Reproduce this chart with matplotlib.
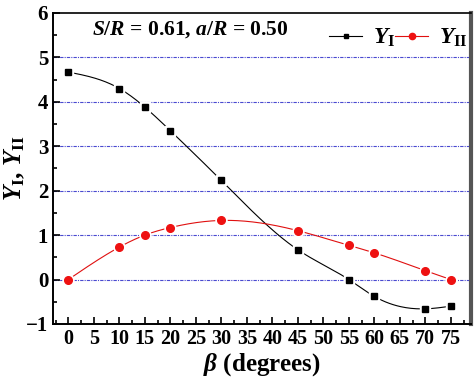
import numpy as np
import matplotlib
matplotlib.use("Agg")
import matplotlib.pyplot as plt
from matplotlib.ticker import MultipleLocator

plt.rcParams['font.family'] = 'Liberation Serif'
plt.rcParams['font.weight'] = 'bold'
plt.rcParams['axes.labelweight'] = 'bold'
plt.rcParams['mathtext.fontset'] = 'custom'
plt.rcParams['mathtext.rm'] = 'Liberation Serif:bold'
plt.rcParams['mathtext.it'] = 'Liberation Serif:bold:italic'
plt.rcParams['mathtext.bf'] = 'Liberation Serif:bold'

# data
beta = np.array([0, 10, 15, 20, 30, 45, 55, 60, 70, 75])
y_one = np.array([4.67, 4.30, 3.88, 3.35, 2.23, 0.67, 0.0, -0.38, -0.66, -0.60])
y_two = np.array([0.0, 0.73, 1.0, 1.17, 1.33, 1.10, 0.77, 0.60, 0.20, 0.0])
xticks = np.arange(0, 80, 5)
yticks = np.arange(-1, 7, 1)


def natural_spline(x, y, n=300):
    # natural cubic spline for the smooth connecting line
    x = x.astype(float)
    h = np.diff(x)
    k = len(x)
    A = np.zeros((k, k))
    r = np.zeros(k)
    A[0, 0] = A[-1, -1] = 1
    for i in range(1, k - 1):
        A[i, i - 1] = h[i - 1]
        A[i, i] = 2 * (h[i - 1] + h[i])
        A[i, i + 1] = h[i]
        r[i] = 6 * ((y[i + 1] - y[i]) / h[i] - (y[i] - y[i - 1]) / h[i - 1])
    m = np.linalg.solve(A, r)
    xs = np.linspace(x[0], x[-1], n)
    idx = np.clip(np.searchsorted(x, xs) - 1, 0, k - 2)
    x0, x1 = x[idx], x[idx + 1]
    hh = x1 - x0
    t0, t1 = x1 - xs, xs - x0
    ys = (m[idx] * t0**3 + m[idx + 1] * t1**3) / (6 * hh) \
        + (y[idx] / hh - m[idx] * hh / 6) * t0 \
        + (y[idx + 1] / hh - m[idx + 1] * hh / 6) * t1
    return xs, ys


fig = plt.figure(figsize=(4.74, 3.82), dpi=100)
ax = fig.add_axes([0.112, 0.152, 0.882, 0.814])

for yv in range(0, 6):
    ax.axhline(yv, color='#4a4ad0', lw=0.8, ls=(0, (3, 1, 1, 1)), zorder=1)

xs, ys = natural_spline(beta, y_one)
ax.plot(xs, ys, color='black', lw=0.8, zorder=2)
xs, ys = natural_spline(beta, y_two)
ax.plot(xs, ys, color='#e01010', lw=0.8, zorder=2)

# white halo under the markers gives the small gaps in the line
ax.plot(beta, y_one, 's', ms=7.5, color='white', zorder=3)
ax.plot(beta, y_two, 'o', ms=8, color='white', zorder=3)
ax.plot(beta, y_one, 's', ms=4.8, color='black', zorder=4)
ax.plot(beta, y_two, 'o', ms=5.5, color='#ee1111', zorder=4)

# legend handles
h1, = ax.plot([], [], '-s', color='black', lw=0.8, ms=3.5)
h2, = ax.plot([], [], '-o', color='#e01010', mfc='#ee1111', mec='#ee1111', lw=0.8, ms=4.5)
ax.legend([h1, h2], [r'$Y_{\rm I}$', r'$Y_{\rm II}$'], ncol=2, frameon=False,
          loc='upper right', bbox_to_anchor=(1.025, 1.0), fontsize=17,
          borderaxespad=0.2, handlelength=1.4, columnspacing=0.0,
          handletextpad=0.45)

ax.text(0.093, 0.945, r'$S/R$ = 0.61, $a/R$ = 0.50', transform=ax.transAxes,
        fontsize=15.5, va='center', ha='left', fontweight='bold')

ax.set_xlim(-3, 79)
ax.set_ylim(-1, 6)
ax.set_xticks(xticks)
ax.set_xticklabels([str(v) for v in xticks], fontweight='bold', fontsize=14.5)
ax.set_yticks(yticks)
ax.set_yticklabels(['\u22121' if v < 0 else str(v) for v in yticks],
                   fontweight='bold', fontsize=15)
ax.xaxis.set_minor_locator(MultipleLocator(2.5))
ax.yaxis.set_minor_locator(MultipleLocator(0.5))
ax.tick_params(which='both', direction='in', width=1.2)
ax.tick_params(which='major', length=5)
ax.tick_params(which='minor', length=3)

for s in ['left', 'bottom']:
    ax.spines[s].set_linewidth(1.4)
ax.spines['top'].set_linewidth(1.2)
ax.spines['right'].set_linewidth(3)
ax.spines['right'].set_color('#555555')

ax.set_xlabel(r'$\beta$ (degrees)', fontsize=18, labelpad=2)
ax.set_ylabel(r'$Y_{\rm I}$, $Y_{\rm II}$', fontsize=18)
ax.yaxis.set_label_coords(-0.063, 0.5)

fig.savefig('out.png', dpi=100)
